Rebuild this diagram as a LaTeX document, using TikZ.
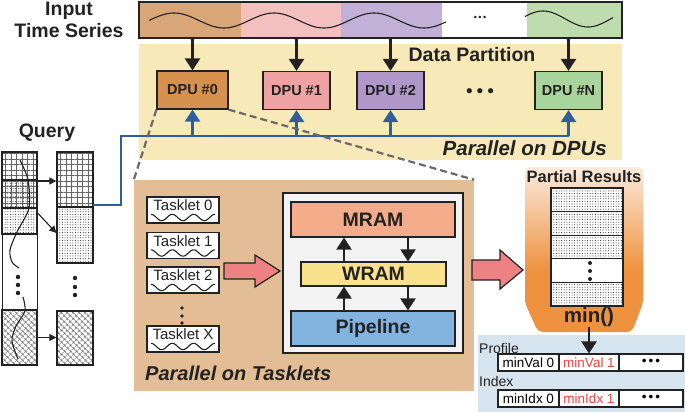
\documentclass[tikz,border=0pt]{standalone}
\usepackage{fontspec}
\setmainfont{Liberation Sans}
\usetikzlibrary{arrows.meta,patterns.meta}

\definecolor{ink}{HTML}{222222}
\definecolor{seg0}{HTML}{D9A677}
\definecolor{seg1}{HTML}{F4BFBF}
\definecolor{seg2}{HTML}{C2B0D6}
\definecolor{seg3}{HTML}{BEDCAE}
\definecolor{dpuc0}{HTML}{D6914E}
\definecolor{dpuc1}{HTML}{EFA2A2}
\definecolor{dpuc2}{HTML}{AF97C9}
\definecolor{dpucN}{HTML}{A9D49B}
\definecolor{partbg}{HTML}{F8E9B8}
\definecolor{taskbg}{HTML}{E3BD95}
\definecolor{corebg}{HTML}{F3F3F3}
\definecolor{mramc}{HTML}{F3AB89}
\definecolor{wramc}{HTML}{F9E28B}
\definecolor{pipec}{HTML}{83B3DF}
\definecolor{fatc}{HTML}{EE8282}
\definecolor{busc}{HTML}{2F5E9F}
\definecolor{resbg}{HTML}{D5E4EF}
\definecolor{redtext}{HTML}{EE4444}
\definecolor{peach}{HTML}{FBEBDD}
\definecolor{orangec}{HTML}{EF9240}
\definecolor{dashc}{HTML}{6A6A6A}

\pgfdeclareverticalshading{partialfade}{100bp}{color(0bp)=(orangec); color(44bp)=(orangec); color(75bp)=(peach); color(100bp)=(peach)}

\tikzstyle{title} = [font=\fontsize{19.5}{21}\selectfont\bfseries, text=ink, inner sep=0]
\tikzstyle{dpu} = [rectangle, draw=ink, line width=1.2pt, minimum width=67pt, minimum height=38pt, 
     font=\fontsize{14.5}{16}\selectfont\bfseries, text=ink]
\tikzstyle{mem} = [rectangle, draw=ink, line width=1.2pt, font=\fontsize{19.5}{21}\selectfont\bfseries, text=ink]
\tikzstyle{arrow} = [draw=ink, line width=2.2pt, -{Triangle[length=12pt,width=15pt]}]
\tikzstyle{busline} = [draw=busc, line width=2.2pt]
\tikzstyle{busarrow} = [draw=busc, line width=2.2pt, -{Triangle[length=12pt,width=15pt]}]
\tikzstyle{qarrow} = [draw=ink, line width=1.1pt, -{Triangle[length=7pt,width=7pt]}]
\tikzstyle{zoomline} = [draw=dashc, line width=2.2pt, dash pattern=on 7pt off 4pt]
\tikzstyle{qcell} = [rectangle, draw=ink, line width=1.3pt, inner sep=0, minimum width=35pt]
\tikzstyle{gridfill} = [pattern={Hatch[angle=0,distance=5.5pt,line width=0.6pt]}, pattern color=black!60]
\tikzstyle{dotfill} = [pattern={Dots[distance=2.6pt,radius=0.5pt]}, pattern color=ink]
\tikzstyle{crossfill} = [pattern={Hatch[angle=45,distance=4pt,line width=0.5pt]}, pattern color=black!55]
\tikzstyle{tasklet} = [rectangle, draw=ink, fill=white, line width=1.1pt, minimum width=72pt, minimum height=26pt, inner sep=0]
\tikzstyle{wave} = [draw=ink, line width=1.1pt]
\tikzstyle{cell} = [rectangle, draw=ink, fill=white, line width=1.1pt, minimum height=17pt, inner sep=0,
     font=\fontsize{13.5}{15}\selectfont]

\begin{document}
\begin{tikzpicture}[x=1pt,y=-1pt]
\useasboundingbox (0,0) rectangle (685,412);

% background regions
\node[fill=partbg, minimum width=483pt, minimum height=116pt, inner sep=0] (partition) at (380.5,102) {};
\node[fill=taskbg, minimum width=340pt, minimum height=211pt, inner sep=0] (tasklets) at (304,285.5) {};
\node[fill=resbg, minimum width=207pt, minimum height=77pt, inner sep=0] (results) at (581.5,373.5) {};

% input time series
\node[title, align=center] (inputlbl) at (69,20) {Input\\[1pt]Time Series};
\foreach \a/\b/\c in {139/241/seg0, 241/341/seg1, 341/442/seg2, 527/622/seg3}
  \fill[\c] (\a,2) rectangle (\b,38);
\draw[wave] plot[domain=149:446, samples=120] (\x, {20.5-7.5*sin(3.6*(\x-149))});
\draw[wave] plot[domain=525:613, samples=50] (\x, {19-8*cos(4*(\x-543))});
\node[font=\fontsize{9}{10}\selectfont, text=ink] (serdots) at (480,18) {\textbullet\kern1.5pt\textbullet\kern1.5pt\textbullet};
\node[draw=ink, line width=1.2pt, minimum width=483pt, minimum height=36pt, inner sep=0] (series) at (380.5,20) {};

\node[title] (partlbl) at (472,55) {Data Partition};

% DPUs
\node[dpu, fill=dpuc0, minimum width=71pt] (dpu0) at (192.5,90) {DPU \#0};
\node[dpu, fill=dpuc1] (dpu1) at (296.5,90.5) {DPU \#1};
\node[dpu, fill=dpuc2] (dpu2) at (390.5,90.5) {DPU \#2};
\node[dpu, fill=dpucN] (dpuN) at (568.5,90.5) {DPU \#N};
\node[font=\fontsize{19}{20}\selectfont, text=ink] (dpudots) at (480,93) {\textbullet\kern4pt\textbullet\kern4pt\textbullet};

\foreach \d in {dpu0,dpu1,dpu2,dpuN}
  \path[arrow] (\d.north |- series.south) -- (\d.north);

% query
\node[title] (querylbl) at (47,133) {Query};
\node[rectangle, draw=ink, line width=0.9pt, minimum width=35pt, minimum height=213pt, inner sep=0] (qcol) at (19.5,258.5) {};
\node[qcell, gridfill, minimum height=56pt] (qL0) at (19.5,180) {};
\node[qcell, dotfill, minimum height=54pt] (qL1) at (19.5,207) {};
\node[qcell, crossfill, minimum height=55pt] (qL2) at (19.5,337.5) {};
\node[qcell, gridfill, minimum width=36pt, minimum height=55pt] (qR0) at (75,179.5) {};
\node[qcell, dotfill, minimum width=36pt, minimum height=56pt] (qR1) at (75,235) {};
\node[qcell, crossfill, minimum width=36pt, minimum height=54pt] (qR2) at (75,338) {};
\draw[wave] plot[smooth] coordinates {(20,160) (28,180) (29,208) (17,232) (10,250) (12,262) (19,268)};
\draw[wave] plot[smooth] coordinates {(23,297) (25,311) (16,326) (12,341) (18,359)};
\foreach \y in {277,285,293} \fill[ink] (18,\y) circle (2.2);
\foreach \y in {278,287,295} \fill[ink] (75,\y) circle (2.2);
\path[qarrow] (qL0.east |- 0,181) -- (qR0.west |- 0,181);
\path[qarrow] ([yshift=-6pt]qL1.east) -- ([yshift=2pt]qR1.west);
\path[qarrow] (qL2.east) -- (qR2.west |- qL2.east);

% query to all DPUs
\coordinate (qout) at (93,205);
\coordinate (bus) at (121,136);
\draw[busline] (qout) -| (bus) -- (dpuN.south |- bus);
\foreach \d in {dpu0,dpu1,dpu2,dpuN}
  \path[busarrow] (\d.south |- bus) -- (\d.south);

\node[title, font=\fontsize{20.5}{22}\selectfont\bfseries\itshape, anchor=east] (dpulbl) at (607,148) {Parallel on DPUs};

% zoom into DPU 0
\path[zoomline] (dpu0.south west) -- (tasklets.north west);
\path[zoomline] (dpu0.south east) -- (tasklets.north east);

% tasklets
\foreach \n/\ty in {0/210, 1/245.5, 2/280, X/339} {
  \node[tasklet] (task\n) at (183,\ty) {};
  \node[font=\fontsize{15}{16}\selectfont, text=ink, inner sep=0] at ([yshift=4.5pt]task\n.center) {Tasklet \n};
  \draw[wave, shift={(task\n.center)}] plot[domain=-32:32, samples=60] (\x, {7.5-3.2*cos(16.88*(\x+32))});
}
\foreach \y in {308,316,323} \fill[ink] (182,\y) circle (1.9);

\path[draw=ink, fill=fatc, line width=1.2pt] (224,263) -- (255,263) -- (255,255) -- (280,271) -- (255,287) -- (255,279) -- (224,279) -- cycle;

% DPU core
\node[rectangle, draw=ink, fill=corebg, line width=1.2pt, minimum width=180pt, minimum height=160pt, inner sep=0] (core) at (373,273) {};
\node[mem, fill=mramc, minimum width=164pt, minimum height=35pt] (mram) at (373,219.5) {MRAM};
\node[mem, fill=wramc, minimum width=145pt, minimum height=24pt, inner sep=0] (wram) at (373.5,274) {WRAM};
\node[mem, fill=pipec, minimum width=164pt, minimum height=35pt] (pipe) at (373,328.5) {Pipeline};
\coordinate (upx) at (344,0);
\coordinate (dnx) at (408,0);
\path[arrow] (wram.north -| upx) -- (mram.south -| upx);
\path[arrow] (mram.south -| dnx) -- (wram.north -| dnx);
\path[arrow] (pipe.north -| upx) -- (wram.south -| upx);
\path[arrow] (wram.south -| dnx) -- (pipe.north -| dnx);

\node[title, font=\fontsize{20}{22}\selectfont\bfseries\itshape, anchor=west] (tasklbl) at (145,373) {Parallel on Tasklets};

% partial results
\path[draw=ink, fill=fatc, line width=1.2pt] (472,260) -- (500,260) -- (500,250) -- (523,270) -- (500,289) -- (500,280) -- (472,280) -- cycle;
\shade[shading=partialfade, rounded corners=5pt] (525,303) -- (525,167) -- (643,167) -- (643,303) -- (632,332) -- (538,332) -- cycle;
\node[title, font=\fontsize{16.5}{18}\selectfont\bfseries] (reslbl) at (584,177) {Partial Results};
\foreach \i in {0,1,2,4}
  \node[rectangle, draw=ink, line width=1.1pt, minimum width=72pt, minimum height=23.6pt, inner sep=0,
    preaction={fill=white}, dotfill] (row\i) at (587,{199.8+23.6*\i}) {};
\node[rectangle, draw=ink, fill=white, line width=1.1pt, minimum width=72pt, minimum height=23.6pt, inner sep=0] (row3) at (587,270.6) {};
\foreach \y in {263,271,279} \fill[ink] (590,\y) circle (2);
\node[title, font=\fontsize{20.5}{22}\selectfont\bfseries] (minop) at (589,317) {min()};

% profile and index
\node[font=\fontsize{14}{15}\selectfont, text=ink, anchor=west, inner sep=0] (proflbl) at (479,348) {Profile};
\node[cell, minimum width=61pt] (val0) at (528.5,362.5) {minVal 0};
\node[cell, minimum width=60pt, text=redtext] (val1) at (589,362.5) {minVal 1};
\node[cell, minimum width=64pt] (val2) at (651,362.5) {\textbullet\kern2pt\textbullet\kern2pt\textbullet};
\node[font=\fontsize{14}{15}\selectfont, text=ink, anchor=west, inner sep=0] (idxlbl) at (479,381) {Index};
\node[cell, minimum width=61pt] (idx0) at (528.5,398.5) {minIdx 0};
\node[cell, minimum width=60pt, text=redtext] (idx1) at (589,398.5) {minIdx 1};
\node[cell, minimum width=64pt] (idx2) at (651,398.5) {\textbullet\kern2pt\textbullet\kern2pt\textbullet};
\path[arrow] (minop.south) -- (val1.north);
\end{tikzpicture}
\end{document}
